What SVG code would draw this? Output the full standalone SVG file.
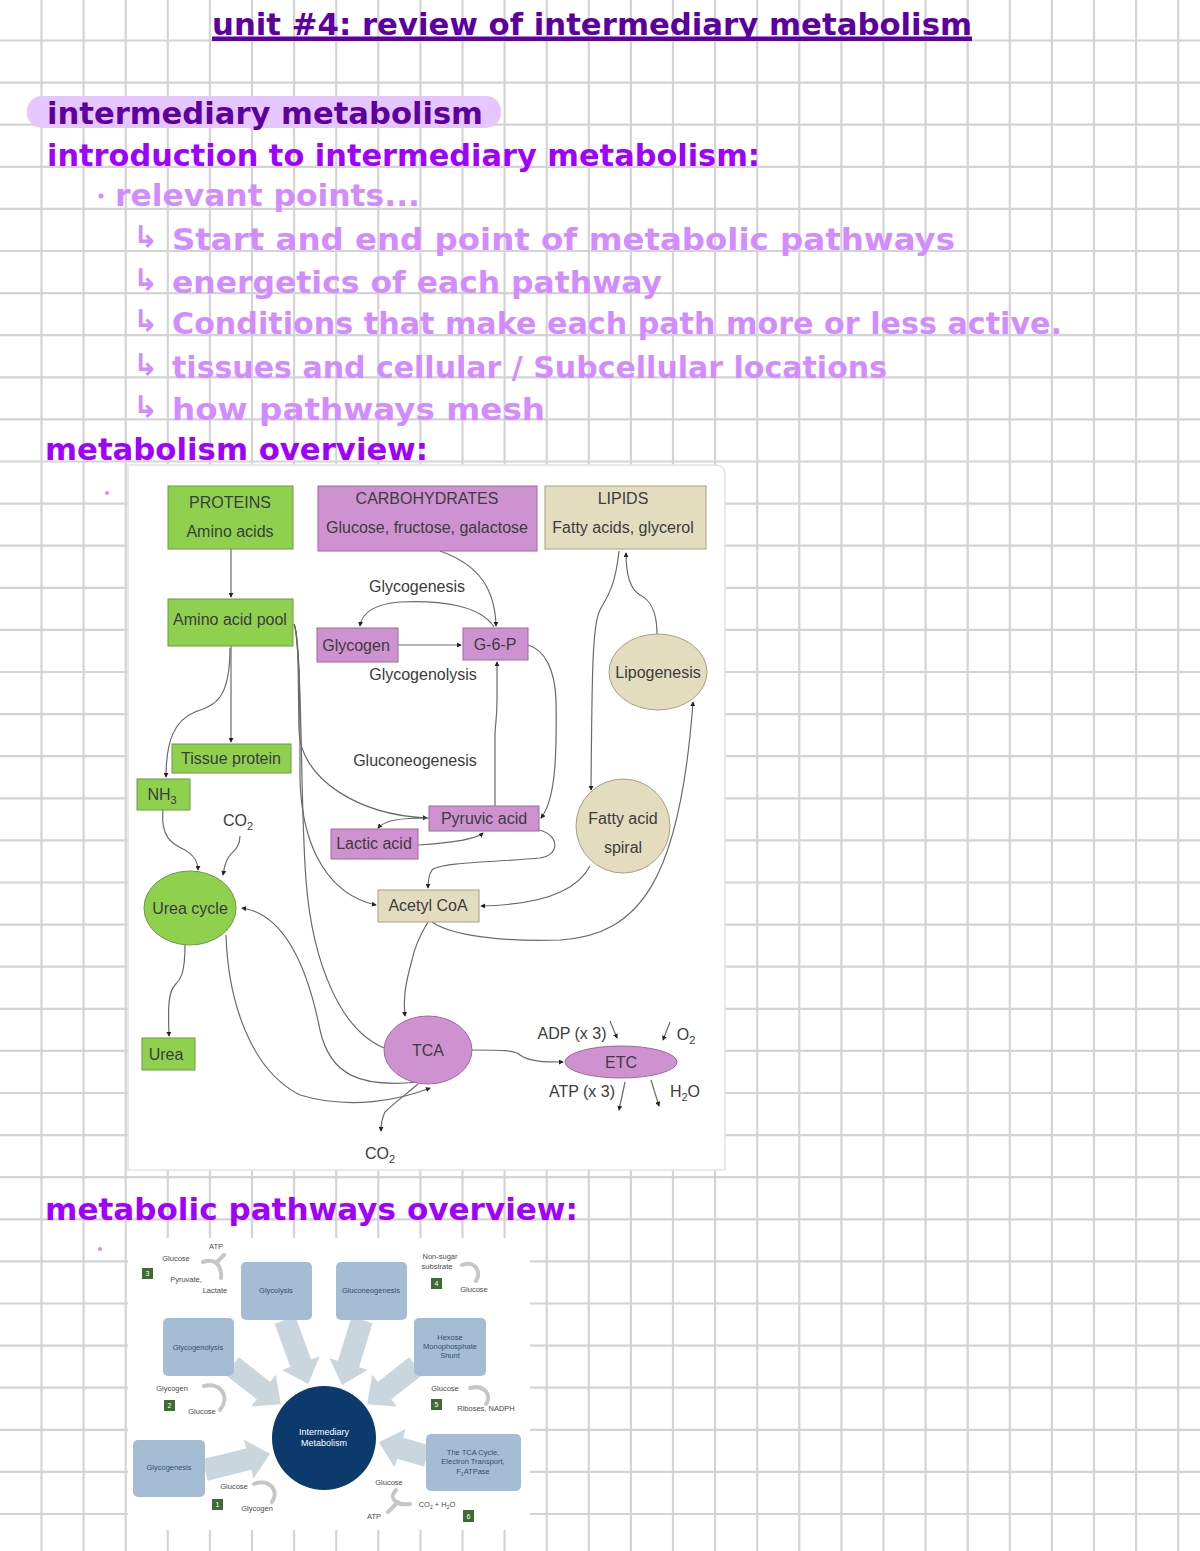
<svg xmlns="http://www.w3.org/2000/svg" width="1200" height="1551" viewBox="0 0 1200 1551">
<defs>
<style>
.hw{font-family:"DejaVu Sans","Liberation Sans",sans-serif;font-weight:bold;font-size:30px}
.dk{fill:#5c00a0}
.vi{fill:#a000ff}
.lt{fill:#d38cff}
.lbl{font-family:"Liberation Sans",Arial,sans-serif;font-size:16px;fill:#3c3c3c;text-anchor:middle}
.green{fill:#8fd14f;stroke:#6d9a45;stroke-width:1}
.purp{fill:#cf92d0;stroke:#9c6a9c;stroke-width:1}
.beige{fill:#e3dcbf;stroke:#a8a084;stroke-width:1}
.conn{fill:none;stroke:#6a6a6a;stroke-width:1.2}
.sm{font-family:"Liberation Sans",Arial,sans-serif;font-size:7.5px;fill:#4a4a4a;text-anchor:middle}
.bx{fill:#a4bdd4}
.bxt{font-family:"Liberation Sans",Arial,sans-serif;font-size:7.5px;fill:#34506e;text-anchor:middle}
.bar{fill:#c9d6dd}
.garc{fill:none;stroke:#c6c6c6;stroke-width:4;stroke-linecap:round}
.num{fill:#3f6b35}
.numt{font-family:"Liberation Sans",Arial,sans-serif;font-size:7px;fill:#ffffff;text-anchor:middle}
</style>
<marker id="ah" viewBox="0 0 6 6" refX="5" refY="3" markerWidth="5" markerHeight="5" orient="auto" markerUnits="userSpaceOnUse"><path d="M0,0 L6,3 L0,6 z" fill="#222"/></marker>
</defs>
<rect x="0" y="0" width="1200" height="1551" fill="#ffffff"/>
<g id="grid" stroke="#d4d4d4" stroke-width="2.2" fill="none">
<path d="M41.5,0V1551M83.6,0V1551M125.7,0V1551M167.8,0V1551M209.9,0V1551M252,0V1551M294.1,0V1551M336.2,0V1551M378.3,0V1551M420.4,0V1551M462.5,0V1551M504.6,0V1551M546.7,0V1551M588.8,0V1551M630.9,0V1551M673,0V1551M715.1,0V1551M757.2,0V1551M799.3,0V1551M841.4,0V1551M883.5,0V1551M925.6,0V1551M967.7,0V1551M1009.8,0V1551M1051.9,0V1551M1094,0V1551M1136.1,0V1551M1178.2,0V1551"/>
<path d="M0,40.5H1200M0,82.6H1200M0,124.7H1200M0,166.8H1200M0,208.9H1200M0,251H1200M0,293.1H1200M0,335.2H1200M0,377.3H1200M0,419.4H1200M0,461.5H1200M0,503.6H1200M0,545.7H1200M0,587.8H1200M0,629.9H1200M0,672H1200M0,714.1H1200M0,756.2H1200M0,798.3H1200M0,840.4H1200M0,882.5H1200M0,924.6H1200M0,966.7H1200M0,1008.8H1200M0,1050.9H1200M0,1093H1200M0,1135.1H1200M0,1177.2H1200M0,1219.3H1200M0,1261.4H1200M0,1303.5H1200M0,1345.6H1200M0,1387.7H1200M0,1429.8H1200M0,1471.9H1200M0,1514H1200"/>
</g>

<g id="notes">
<text class="hw dk" x="212" y="35" textLength="760" lengthAdjust="spacingAndGlyphs">unit #4: review of intermediary metabolism</text>
<rect x="212" y="36.5" width="760" height="4.5" fill="#5c00a0"/>
<rect x="27" y="96" width="474" height="32" rx="15" fill="#e6c6ff"/>
<text class="hw dk" x="47" y="124" textLength="436" lengthAdjust="spacingAndGlyphs">intermediary metabolism</text>
<text class="hw vi" x="47" y="166" textLength="713" lengthAdjust="spacingAndGlyphs">introduction to intermediary metabolism:</text>
<circle cx="101" cy="196" r="2.5" fill="#d38cff"/>
<text class="hw lt" x="115" y="206" textLength="305" lengthAdjust="spacingAndGlyphs">relevant points...</text>
<text class="hw lt" x="133" y="247" font-size="22">↳</text>
<text class="hw lt" x="172" y="250" textLength="783" lengthAdjust="spacingAndGlyphs">Start and end point of metabolic pathways</text>
<text class="hw lt" x="133" y="290" font-size="22">↳</text>
<text class="hw lt" x="172" y="293" textLength="490" lengthAdjust="spacingAndGlyphs">energetics of each pathway</text>
<text class="hw lt" x="133" y="331" font-size="22">↳</text>
<text class="hw lt" x="172" y="334" textLength="890" lengthAdjust="spacingAndGlyphs">Conditions that make each path more or less active.</text>
<text class="hw lt" x="133" y="375" font-size="22">↳</text>
<text class="hw lt" x="172" y="378" textLength="715" lengthAdjust="spacingAndGlyphs">tissues and cellular / Subcellular locations</text>
<text class="hw lt" x="133" y="417" font-size="22">↳</text>
<text class="hw lt" x="172" y="420" textLength="373" lengthAdjust="spacingAndGlyphs">how pathways mesh</text>
<text class="hw vi" x="45" y="460" textLength="383" lengthAdjust="spacingAndGlyphs">metabolism overview:</text>
<text class="hw vi" x="45" y="1220" textLength="533" lengthAdjust="spacingAndGlyphs">metabolic pathways overview:</text>
</g>

<g id="overview-panel">
<path d="M128,465 H715 Q725,465 725,475 V1170 H128 Z" fill="#ffffff" stroke="#e2e2e2" stroke-width="1.5"/>
<circle cx="107" cy="493" r="2" fill="#d38cff"/>
</g>

<g id="connectors">
<path class="conn" marker-end="url(#ah)" d="M231,549 L231,597"/>
<path class="conn" marker-end="url(#ah)" d="M231,646 L231,742"/>
<path class="conn" marker-end="url(#ah)" d="M230,648 C230,700 215,705 195,712 C175,720 166,740 166,777"/>
<path class="conn" marker-end="url(#ah)" d="M163,810 C160,840 175,845 185,850 C195,856 198,862 198,870"/>
<path class="conn" marker-end="url(#ah)" d="M240,836 C240,850 230,852 227,860 C224,866 224,870 223,875"/>
<path class="conn" marker-end="url(#ah)" d="M185,945 C185,975 180,980 175,985 C168,992 168,1010 169,1036"/>
<path class="conn" marker-end="url(#ah)" d="M294,624 C299,635 298,680 299,730 C300,780 360,815 427,818"/>
<path class="conn" marker-end="url(#ah)" d="M294,624 C300,640 300,700 300,780 C302,850 330,895 376,905"/>
<path class="conn" marker-end="url(#ah)" d="M295,626 C303,680 300,800 306,880 C312,960 340,1035 390,1050"/>
<path class="conn" marker-end="url(#ah)" d="M418,1082 C360,1088 330,1075 320,1030 C310,980 290,915 242,908"/>
<path class="conn" marker-end="url(#ah)" d="M226,935 C228,1000 250,1070 300,1095 C350,1110 400,1100 430,1088"/>
<path class="conn" marker-end="url(#ah)" d="M440,551 C480,565 495,590 496,626"/>
<path class="conn" marker-end="url(#ah)" d="M494,627 C480,605 440,600 400,602 C375,604 362,612 360,626"/>
<path class="conn" marker-end="url(#ah)" d="M398,645 L461,645"/>
<path class="conn" marker-end="url(#ah)" d="M528,645 C545,650 555,670 556,700 C557,760 555,800 541,818"/>
<path class="conn" marker-end="url(#ah)" d="M495,806 L495,735 C495,725 497,720 497,700 L497,662"/>
<path class="conn" marker-end="url(#ah)" d="M429,818 C400,818 385,820 378,828"/>
<path class="conn" marker-end="url(#ah)" d="M418,845 C450,843 475,840 483,833"/>
<path class="conn" marker-end="url(#ah)" d="M539,830 C560,835 560,855 540,858 C500,862 440,862 432,870 C428,876 428,882 428,888"/>
<path class="conn" marker-end="url(#ah)" d="M619,551 C615,590 605,600 600,610 C592,625 592,680 591,790"/>
<path class="conn" marker-end="url(#ah)" d="M657,634 C657,610 650,600 640,595 C628,588 626,570 626,553"/>
<path class="conn" marker-end="url(#ah)" d="M590,866 C575,895 530,905 481,906"/>
<path class="conn" marker-end="url(#ah)" d="M432,922 C450,935 500,942 560,940 C640,935 680,880 693,702"/>
<path class="conn" marker-end="url(#ah)" d="M428,922 C420,935 415,945 412,960 C405,985 403,1000 405,1016"/>
<path class="conn" marker-end="url(#ah)" d="M472,1050 C500,1050 515,1050 520,1055 C530,1062 545,1062 563,1062"/>
<path class="conn" marker-end="url(#ah)" d="M610,1021 L617,1038"/>
<path class="conn" marker-end="url(#ah)" d="M670,1022 L663,1040"/>
<path class="conn" marker-end="url(#ah)" d="M625,1082 L619,1110"/>
<path class="conn" marker-end="url(#ah)" d="M651,1080 L659,1106"/>
<path class="conn" marker-end="url(#ah)" d="M418,1084 C405,1095 392,1105 385,1112 C382,1118 381,1125 381,1131"/>
</g>

<g id="proteins"><rect class="green" x="168" y="486" width="125" height="63"/><text class="lbl" x="230" y="508">PROTEINS</text><text class="lbl" x="230" y="537">Amino acids</text></g>
<g id="carbohydrates"><rect class="purp" x="318" y="486" width="219" height="65"/><text class="lbl" x="427" y="504">CARBOHYDRATES</text><text class="lbl" x="427" y="533" font-size="15.5">Glucose, fructose, galactose</text></g>
<g id="lipids"><rect class="beige" x="545" y="486" width="161" height="63"/><text class="lbl" x="623" y="504">LIPIDS</text><text class="lbl" x="623" y="533" font-size="15.5">Fatty acids, glycerol</text></g>
<g id="amino-acid-pool"><rect class="green" x="168" y="599" width="125" height="47"/><text class="lbl" x="230" y="625">Amino acid pool</text></g>
<g id="glycogen"><rect class="purp" x="317" y="628" width="81" height="34"/><text class="lbl" x="356" y="651">Glycogen</text></g>
<g id="g6p"><rect class="purp" x="463" y="628" width="65" height="32"/><text class="lbl" x="495" y="650">G-6-P</text></g>
<g id="lbl-glycogenesis"><text class="lbl" x="417" y="592">Glycogenesis</text></g>
<g id="lbl-glycogenolysis"><text class="lbl" x="423" y="680">Glycogenolysis</text></g>
<g id="lipogenesis"><ellipse class="beige" cx="658" cy="672" rx="49" ry="38"/><text class="lbl" x="658" y="678">Lipogenesis</text></g>
<g id="tissue-protein"><rect class="green" x="172" y="744" width="119" height="29"/><text class="lbl" x="231" y="764">Tissue protein</text></g>
<g id="nh3"><rect class="green" x="137" y="779" width="53" height="31"/><text class="lbl" x="162" y="800">NH<tspan font-size="11" dy="4">3</tspan></text></g>
<g id="lbl-gluconeogenesis"><text class="lbl" x="415" y="766">Gluconeogenesis</text></g>
<g id="co2-top"><text class="lbl" x="238" y="826">CO<tspan font-size="11" dy="4">2</tspan></text></g>
<g id="pyruvic-acid"><rect class="purp" x="429" y="806" width="110" height="25"/><text class="lbl" x="484" y="824">Pyruvic acid</text></g>
<g id="lactic-acid"><rect class="purp" x="331" y="829" width="87" height="30"/><text class="lbl" x="374" y="849">Lactic acid</text></g>
<g id="fatty-acid-spiral"><circle class="beige" cx="623" cy="826" r="47"/><text class="lbl" x="623" y="824">Fatty acid</text><text class="lbl" x="623" y="853">spiral</text></g>
<g id="urea-cycle"><ellipse class="green" cx="190" cy="908" rx="46" ry="37"/><text class="lbl" x="190" y="914">Urea cycle</text></g>
<g id="acetyl-coa"><rect class="beige" x="378" y="890" width="101" height="32"/><text class="lbl" x="428" y="911">Acetyl CoA</text></g>
<g id="urea"><rect class="green" x="142" y="1038" width="53" height="32"/><text class="lbl" x="166" y="1060">Urea</text></g>
<g id="tca"><ellipse class="purp" cx="428" cy="1050" rx="44" ry="34"/><text class="lbl" x="428" y="1056">TCA</text></g>
<g id="etc"><ellipse class="purp" cx="621" cy="1062" rx="56" ry="16"/><text class="lbl" x="621" y="1068">ETC</text></g>
<g id="etc-labels">
<text class="lbl" x="572" y="1039">ADP (x 3)</text>
<text class="lbl" x="686" y="1040">O<tspan font-size="11" dy="4">2</tspan></text>
<text class="lbl" x="582" y="1097">ATP (x 3)</text>
<text class="lbl" x="685" y="1097">H<tspan font-size="11" dy="4">2</tspan><tspan dy="-4">O</tspan></text>
</g>
<g id="co2-bottom"><text class="lbl" x="380" y="1159">CO<tspan font-size="11" dy="4">2</tspan></text></g>

<g id="pathways-panel">
<rect x="128" y="1238" width="402" height="292" fill="#ffffff"/>
<circle cx="100" cy="1249" r="2" fill="#d38cff"/>
</g>
<g id="pathway-arrows">
<polygon class="bar" transform="translate(285,1320) rotate(70)" points="0,-11 46,-11 46,-20 68,0 46,20 46,11 0,11"/>
<polygon class="bar" transform="translate(362,1320) rotate(107)" points="0,-11 46,-11 46,-20 68,0 46,20 46,11 0,11"/>
<polygon class="bar" transform="translate(232,1366) rotate(38)" points="0,-11 40,-11 40,-20 62,0 40,20 40,11 0,11"/>
<polygon class="bar" transform="translate(416,1366) rotate(142)" points="0,-11 40,-11 40,-20 62,0 40,20 40,11 0,11"/>
<polygon class="bar" transform="translate(205,1470) rotate(-14)" points="0,-11 45,-11 45,-20 67,0 45,20 45,11 0,11"/>
<polygon class="bar" transform="translate(427,1456) rotate(196)" points="0,-11 28,-11 28,-20 50,0 28,20 28,11 0,11"/>
</g>
<g id="glycolysis"><rect class="bx" x="241" y="1262" width="71" height="58" rx="5"/><text class="bxt" x="276" y="1293">Glycolysis</text></g>
<g id="gluconeogenesis"><rect class="bx" x="336" y="1262" width="71" height="58" rx="5"/><text class="bxt" x="371" y="1293">Gluconeogenesis</text></g>
<g id="glycogenolysis"><rect class="bx" x="163" y="1318" width="71" height="58" rx="5"/><text class="bxt" x="198" y="1350">Glycogenolysis</text></g>
<g id="hms"><rect class="bx" x="414" y="1318" width="72" height="58" rx="5"/><text class="bxt" x="450" y="1340">Hexose</text><text class="bxt" x="450" y="1349">Monophosphate</text><text class="bxt" x="450" y="1358">Shunt</text></g>
<g id="glycogenesis"><rect class="bx" x="133" y="1440" width="72" height="57" rx="5"/><text class="bxt" x="169" y="1470">Glycogenesis</text></g>
<g id="tca-etc"><rect class="bx" x="426" y="1434" width="95" height="57" rx="5"/><text class="bxt" x="473" y="1455">The TCA Cycle,</text><text class="bxt" x="473" y="1464">Electron Transport,</text><text class="bxt" x="473" y="1474">F<tspan font-size="5" dy="2">1</tspan><tspan dy="-2">ATPase</tspan></text></g>
<g id="intermediary-metabolism"><circle cx="324" cy="1438" r="52" fill="#0d3a6d"/><text class="bxt" x="324" y="1435" fill="#ffffff" style="fill:#ffffff;font-size:9px">Intermediary</text><text class="bxt" x="324" y="1446" style="fill:#ffffff;font-size:9px">Metabolism</text></g>
<g id="step3">
<path class="garc" d="M203,1262 C214,1258 222,1264 221,1278"/><path class="garc" d="M216,1263 L224,1255"/>
<text class="sm" x="216" y="1249">ATP</text><text class="sm" x="176" y="1261">Glucose</text>
<rect class="num" x="142" y="1268" width="11" height="11"/><text class="numt" x="147.5" y="1276">3</text>
<text class="sm" x="186" y="1282">Pyruvate,</text><text class="sm" x="215" y="1293">Lactate</text>
</g>
<g id="step4">
<path class="garc" d="M462,1265 C475,1260 482,1272 476,1281"/>
<text class="sm" x="440" y="1259">Non-sugar</text><text class="sm" x="437" y="1269">substrate</text>
<rect class="num" x="431" y="1278" width="11" height="11"/><text class="numt" x="436.5" y="1286">4</text>
<text class="sm" x="474" y="1292">Glucose</text>
</g>
<g id="step2">
<path class="garc" d="M204,1386 C222,1382 230,1398 220,1410"/>
<text class="sm" x="172" y="1391">Glycogen</text>
<rect class="num" x="164" y="1400" width="11" height="11"/><text class="numt" x="169.5" y="1408">2</text>
<text class="sm" x="202" y="1414">Glucose</text>
</g>
<g id="step5">
<path class="garc" d="M470,1388 C485,1384 492,1396 486,1404"/>
<text class="sm" x="445" y="1391">Glucose</text>
<rect class="num" x="431" y="1399" width="11" height="11"/><text class="numt" x="436.5" y="1407">5</text>
<text class="sm" x="486" y="1411">Riboses, NADPH</text>
</g>
<g id="step1">
<path class="garc" d="M254,1484 C268,1478 280,1490 272,1502"/>
<text class="sm" x="234" y="1489">Glucose</text>
<rect class="num" x="212" y="1499" width="11" height="11"/><text class="numt" x="217.5" y="1507">1</text>
<text class="sm" x="257" y="1511">Glycogen</text>
</g>
<g id="step6">
<path class="garc" d="M396,1490 C388,1498 396,1506 410,1504"/><path class="garc" d="M398,1502 L388,1512"/>
<text class="sm" x="389" y="1485">Glucose</text>
<text class="sm" x="374" y="1519">ATP</text>
<text class="sm" x="437" y="1507">CO<tspan font-size="5" dy="2">2</tspan><tspan dy="-2"> + H</tspan><tspan font-size="5" dy="2">2</tspan><tspan dy="-2">O</tspan></text>
<rect class="num" x="463" y="1510" width="11" height="12"/><text class="numt" x="468.5" y="1519">6</text>
</g>
</svg>
